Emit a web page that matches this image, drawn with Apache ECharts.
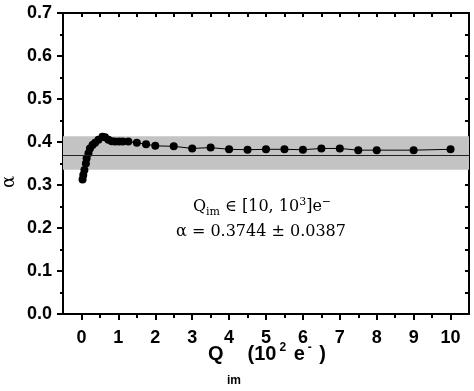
<!DOCTYPE html>
<html>
<head>
<meta charset="utf-8">
<script src="https://cdn.jsdelivr.net/npm/echarts@6/dist/echarts.min.js"></script>
<style>html,body{margin:0;padding:0;background:#fff}#c{width:474px;height:391px}</style>
</head>
<body>
<div id="c"></div>
<script>
const qValues = [0.03,0.05,0.08,0.12,0.14,0.19,0.23,0.30,0.37,0.46,0.57,0.64,0.73,0.82,0.91,1.02,1.12,1.27,1.5,1.75,2.0,2.5,3.0,3.5,4.0,4.5,5.0,5.5,6.0,6.5,7.0,7.5,8.0,9.0,10.0];
const alphaValues = [0.313,0.323,0.335,0.350,0.362,0.374,0.385,0.393,0.398,0.405,0.412,0.411,0.405,0.402,0.401,0.401,0.401,0.401,0.398,0.395,0.391,0.390,0.385,0.387,0.383,0.382,0.383,0.383,0.382,0.385,0.385,0.381,0.381,0.381,0.383];
const xTicks = [0,1,2,3,4,5,6,7,8,9,10];
const xMinorTicks = [0.5,1.5,2.5,3.5,4.5,5.5,6.5,7.5,8.5,9.5];
const alphaMean = 0.3744;
const alphaStd = 0.0387;

const chart = echarts.init(document.getElementById('c'));
const labelFont = {fontFamily:'Liberation Sans, Arial', fontWeight:'bold', fontSize:18, color:'#000'};
const axisLine = {show:true, onZero:false, lineStyle:{color:'#000', width:2}};
const boldFam = 'Liberation Sans, Arial';
chart.setOption({
  animation:false,
  grid:{left:63, right:5, top:13, bottom:77, outerBoundsMode:'none', containLabel:false},
  xAxis:[
    {type:'value', min:-0.5, max:10.5, position:'bottom',
     axisLine:axisLine, splitLine:{show:false},
     axisTick:{show:true, customValues:xTicks, length:6, lineStyle:{width:2,color:'#000'}},
     axisLabel:Object.assign({customValues:xTicks, margin:15}, labelFont)},
    {type:'value', min:-0.5, max:10.5, position:'bottom',
     axisLine:{show:false, onZero:false}, splitLine:{show:false}, axisLabel:{show:false},
     axisTick:{show:true, customValues:xMinorTicks, length:4, lineStyle:{width:2,color:'#000'}}},
    {type:'value', min:-0.5, max:10.5, position:'top',
     axisLine:axisLine, splitLine:{show:false}, axisLabel:{show:false},
     axisTick:{show:true, inside:true, customValues:xTicks.concat(xMinorTicks), length:4, lineStyle:{width:2,color:'#000'}}}
  ],
  yAxis:[
    {type:'value', min:0, max:0.7, interval:0.1, position:'left',
     axisLine:axisLine, splitLine:{show:false},
     axisTick:{show:true, length:6, lineStyle:{width:2,color:'#000'}},
     minorTick:{show:true, splitNumber:2, length:3, lineStyle:{width:2,color:'#000'}},
     axisLabel:Object.assign({margin:11, formatter:v=>v.toFixed(1)}, labelFont)},
    {type:'value', min:0, max:0.7, interval:0.1, position:'right',
     axisLine:axisLine, splitLine:{show:false}, axisLabel:{show:false},
     axisTick:{show:true, inside:true, length:4, lineStyle:{width:2,color:'#000'}},
     minorTick:{show:true, splitNumber:2, length:4, lineStyle:{width:2,color:'#000'}}}
  ],
  graphic:[
    {type:'text', x:9, y:182, rotation:Math.PI/2,
     style:{text:'α', font:'18px "DejaVu Serif"', fill:'#000', align:'center', verticalAlign:'middle'}},
    {type:'text', x:267, y:354,
     style:{text:'{b|Q}{gap| }{b|(10}{sup|2}{b| e}{sup|-}{b| )}', align:'center', verticalAlign:'middle',
       rich:{
         b:{fontFamily:boldFam, fontWeight:'bold', fontSize:20, fill:'#000'},
         gap:{fontFamily:boldFam, fontSize:12, width:24},
         sup:{fontFamily:boldFam, fontWeight:'bold', fontSize:12, fill:'#000', padding:[0,2,12,3]}
       }}},
    {type:'text', x:234, y:381,
     style:{text:'im', fontFamily:boldFam, fontWeight:'bold', fontSize:12, fill:'#000', align:'center', verticalAlign:'middle'}},
    {type:'text', x:262, y:207,
     style:{text:'{m|Q}{s|im}{m| ∈ [10, 10}{p|3}{m|]e}{p|−}', align:'center', verticalAlign:'middle',
       rich:{
         m:{fontFamily:'DejaVu Serif', fontSize:16, fill:'#000'},
         s:{fontFamily:'DejaVu Serif', fontSize:11, fill:'#000', padding:[10,0,0,0]},
         p:{fontFamily:'DejaVu Serif', fontSize:11, fill:'#000', padding:[0,0,10,0]}
       }}},
    {type:'text', x:261, y:232,
     style:{text:'α = ' + alphaMean.toFixed(4) + ' ± ' + alphaStd.toFixed(4), font:'16px "DejaVu Serif"', fill:'#000', align:'center', verticalAlign:'middle'}}
  ],
  series:[{
    type:'line', xAxisIndex:0, yAxisIndex:0,
    data:qValues.map((q,i)=>[q, alphaValues[i]]),
    symbol:'circle', symbolSize:8,
    itemStyle:{color:'#000'}, lineStyle:{color:'#000', width:1},
    markArea:{silent:true, itemStyle:{color:'#c3c3c3'},
      data:[[{yAxis:alphaMean-alphaStd},{yAxis:alphaMean+alphaStd}]]},
    markLine:{silent:true, symbol:'none', label:{show:false},
      lineStyle:{color:'#222', width:1, type:'solid'},
      data:[{yAxis:alphaMean}]}
  }]
});
</script>
</body>
</html>
